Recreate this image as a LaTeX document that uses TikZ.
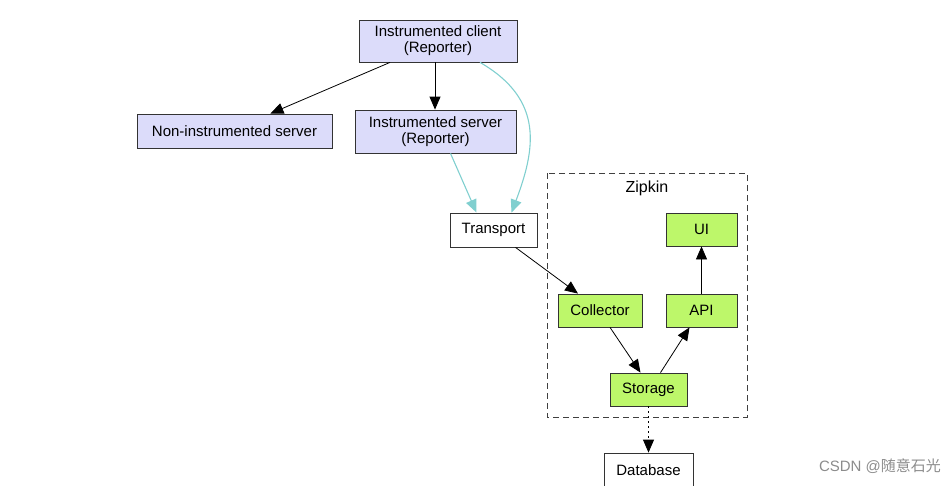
\documentclass[tikz,border=0pt]{standalone}
\usepackage{fontspec}
\setmainfont{Liberation Sans}
\newfontfamily\cjk{Noto Sans CJK SC}
\usetikzlibrary{arrows.meta}
\definecolor{lav}{HTML}{DCDCFA}
\definecolor{lime}{HTML}{BDF76A}
\definecolor{teal2}{HTML}{80CFCF}
\begin{document}
\begin{tikzpicture}[x=1pt,y=-1pt,
  box/.style={draw=black!80,line width=0.8pt,inner sep=0pt,align=center,font=\fontsize{15}{16}\selectfont},
  pur/.style={box,fill=lav},
  grn/.style={box,fill=lime},
  wht/.style={box,fill=white},
  arr/.style={-{Triangle[length=13pt,width=11pt]},line width=0.8pt},
  tarr/.style={draw=teal2,line width=1.1pt,-{Triangle[length=13pt,width=11pt,fill=teal2]}}]
\useasboundingbox (0,0) rectangle (949,485);
\draw[dashed,dash pattern=on 6pt off 4pt,line width=1pt,black!75] (547,173) rectangle (747,417);
\node[font=\fontsize{16}{17}\selectfont] (zl) at (647,188) {Zipkin};
\node[pur,minimum width=158pt,minimum height=42pt] (cl) at (438,41) {Instrumented client\\(Reporter)};
\node[pur,minimum width=195pt,minimum height=34pt] (ni) at (234.5,131) {Non-instrumented server};
\node[pur,minimum width=161pt,minimum height=43pt] (sv) at (435.5,131.5) {Instrumented server\\(Reporter)};
\node[wht,minimum width=87pt,minimum height=34pt] (tr) at (493.5,230) {Transport};
\node[grn,minimum width=71pt,minimum height=33pt] (ui) at (701.5,229.5) {UI};
\node[grn,minimum width=84pt,minimum height=33pt] (co) at (600,310.5) {Collector};
\node[grn,minimum width=71pt,minimum height=33pt] (api) at (701.5,310.5) {API};
\node[grn,minimum width=77pt,minimum height=33pt] (st) at (648.5,389.5) {Storage};
\node[wht,minimum width=89pt,minimum height=34pt] (db) at (648.5,470) {Database};
\node[text=black!45,font=\fontsize{15}{16}\selectfont] (wm) at (880,466) {CSDN @{\cjk 随意石光}};
\draw[arr] ([xshift=-3pt]cl.south) -- ([xshift=-0.5pt]sv.north);
\draw[arr] ([xshift=-48pt]cl.south) -- ([xshift=-62pt]ni.north east);
\draw[tarr] ([xshift=42pt]cl.south) .. controls (545,100) and (535,150) .. ([xshift=18pt]tr.north);
\draw[tarr] ([xshift=15pt]sv.south) -- ([xshift=-17pt]tr.north);
\draw[arr] ([xshift=22pt]tr.south) -- ([xshift=-22pt]co.north);
\draw[arr] ([xshift=10pt]co.south) -- ([xshift=-8pt]st.north);
\draw[arr] ([xshift=12pt]st.north) -- ([xshift=-12pt]api.south);
\draw[arr] (api) -- (ui);
\draw[arr,dash pattern=on 2pt off 3pt] (st) -- (db);
\end{tikzpicture}
\end{document}
